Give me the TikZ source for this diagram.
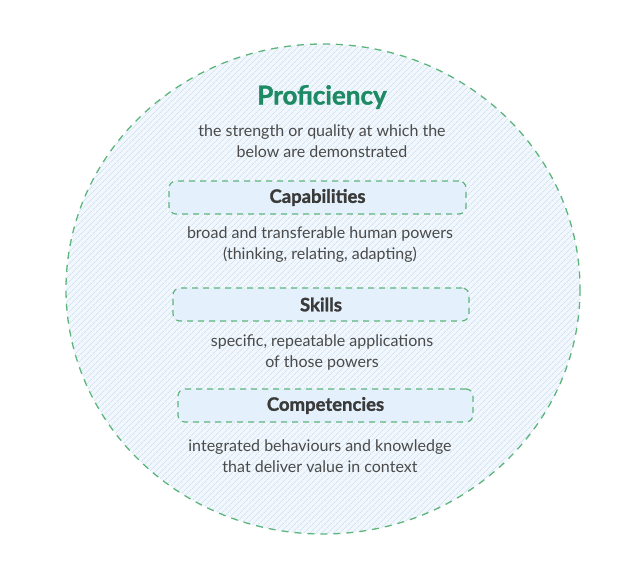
\documentclass[tikz,border=0pt]{standalone}
\usepackage{fontspec}
\setmainfont{Lato}[BoldFeatures={FakeBold=1.4}]
\usetikzlibrary{patterns.meta}
\definecolor{titlegreen}{HTML}{1E8A64}
\definecolor{dashgreen}{HTML}{5DB57C}
\definecolor{bodygray}{HTML}{4A4A4A}
\definecolor{headgray}{HTML}{3A3A3A}
\definecolor{circfill}{HTML}{F1F7FC}
\definecolor{hatch}{HTML}{CFE3F4}
\definecolor{boxfill}{HTML}{E4F0FB}

\begin{document}
\begin{tikzpicture}[x=1pt,y=-1pt,
    layerbox/.style={draw=dashgreen,line width=1.2pt,dash pattern=on 6pt off 5pt,
      rounded corners=7pt,fill=boxfill,minimum height=33pt,
      font=\fontsize{18.5}{20}\selectfont\bfseries,text=headgray},
    note/.style={align=center,font=\fontsize{16}{21}\selectfont,text=bodygray}]
  \useasboundingbox (0,0) rectangle (618,586);

  % outer circle, hachure filled
  \path[fill=circfill] (323,289) ellipse [x radius=257, y radius=245];
  \path[pattern={Lines[angle=45,distance=4pt,line width=0.7pt]},pattern color=hatch]
    (323,289) ellipse [x radius=257, y radius=245];
  \draw[dashgreen,line width=1.3pt,dash pattern=on 7pt off 6pt]
    (323,289) ellipse [x radius=257, y radius=245];

  \node[font=\fontsize{26}{28}\selectfont\bfseries,text=titlegreen] (title) at (322,97) {Proficiency};
  \node[note] (titlenote) at (322,141) {the strength or quality at which the\\below are demonstrated};

  \node[layerbox,minimum width=297pt] (capab) at (317.5,197.5) {Capabilities};
  \node[note] (capabnote) at (320,244.5) {broad and transferable human powers\\(thinking, relating, adapting)};

  \node[layerbox,minimum width=296pt] (skills) at (321,304.5) {Skills};
  \node[note] (skillsnote) at (322,352) {specific, repeatable applications\\of those powers};

  \node[layerbox,minimum width=295pt] (compet) at (325.5,405.5) {Competencies};
  \node[note] (competnote) at (320,456) {integrated behaviours and knowledge\\that deliver value in context};
\end{tikzpicture}
\end{document}
